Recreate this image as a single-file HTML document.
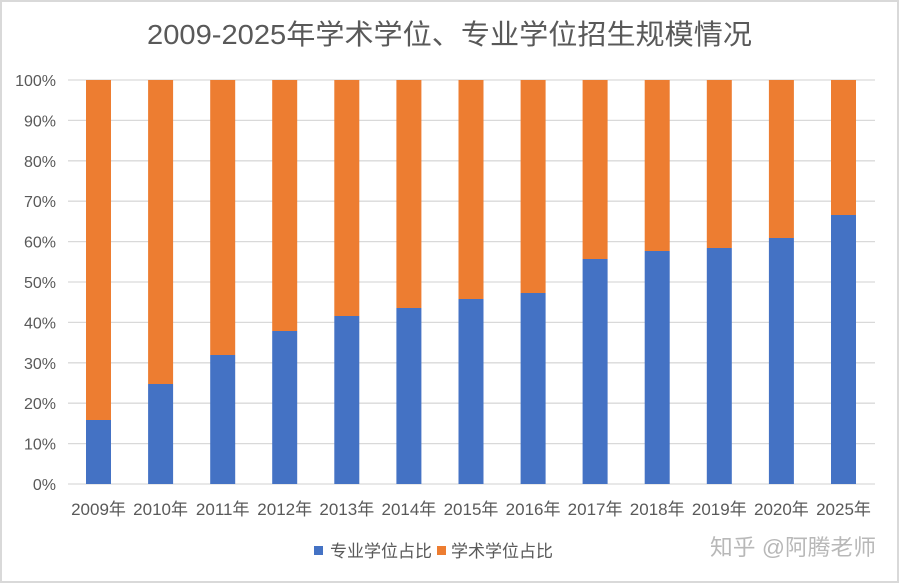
<!DOCTYPE html>
<html><head><meta charset="utf-8"><style>
html,body{margin:0;padding:0;background:#fff;}
svg{display:block;}
text{font-family:"Liberation Sans","Noto Sans CJK SC",sans-serif;fill:#595959;}
</style></head><body>
<svg width="899" height="583" viewBox="0 0 899 583" xmlns="http://www.w3.org/2000/svg">
<rect x="0" y="0" width="899" height="583" fill="#fff"/>
<rect x="1" y="1" width="897" height="581" fill="none" stroke="#d9d9d9" stroke-width="2"/>
<text x="147" y="44" font-size="28" textLength="605" lengthAdjust="spacingAndGlyphs">2009-2025年学术学位、专业学位招生规模情况</text>
<g stroke="#d9d9d9" stroke-width="1.3">
<line x1="68" x2="875" y1="80" y2="80"/><line x1="68" x2="875" y1="120.4" y2="120.4"/>
<line x1="68" x2="875" y1="160.8" y2="160.8"/><line x1="68" x2="875" y1="201.2" y2="201.2"/>
<line x1="68" x2="875" y1="241.6" y2="241.6"/><line x1="68" x2="875" y1="282" y2="282"/>
<line x1="68" x2="875" y1="322.4" y2="322.4"/><line x1="68" x2="875" y1="362.8" y2="362.8"/>
<line x1="68" x2="875" y1="403.2" y2="403.2"/><line x1="68" x2="875" y1="443.6" y2="443.6"/>
<line x1="68" x2="875" y1="484" y2="484"/>
</g>
<g font-size="16" text-anchor="end">
<text x="56" y="86">100%</text><text x="56" y="126.4">90%</text><text x="56" y="166.8">80%</text>
<text x="56" y="207.2">70%</text><text x="56" y="247.6">60%</text><text x="56" y="288">50%</text>
<text x="56" y="328.4">40%</text><text x="56" y="368.8">30%</text><text x="56" y="409.2">20%</text>
<text x="56" y="449.6">10%</text><text x="56" y="490">0%</text>
</g>
<g>
<rect x="86" y="80" width="25" height="340" fill="#ed7d31"/><rect x="86" y="420" width="25" height="64" fill="#4472c4"/>
<rect x="148.1" y="80" width="25" height="304" fill="#ed7d31"/><rect x="148.1" y="384" width="25" height="100" fill="#4472c4"/>
<rect x="210.2" y="80" width="25" height="275" fill="#ed7d31"/><rect x="210.2" y="355" width="25" height="129" fill="#4472c4"/>
<rect x="272.2" y="80" width="25" height="251" fill="#ed7d31"/><rect x="272.2" y="331" width="25" height="153" fill="#4472c4"/>
<rect x="334.3" y="80" width="25" height="236" fill="#ed7d31"/><rect x="334.3" y="316" width="25" height="168" fill="#4472c4"/>
<rect x="396.4" y="80" width="25" height="228" fill="#ed7d31"/><rect x="396.4" y="308" width="25" height="176" fill="#4472c4"/>
<rect x="458.5" y="80" width="25" height="219" fill="#ed7d31"/><rect x="458.5" y="299" width="25" height="185" fill="#4472c4"/>
<rect x="520.6" y="80" width="25" height="213" fill="#ed7d31"/><rect x="520.6" y="293" width="25" height="191" fill="#4472c4"/>
<rect x="582.6" y="80" width="25" height="179" fill="#ed7d31"/><rect x="582.6" y="259" width="25" height="225" fill="#4472c4"/>
<rect x="644.7" y="80" width="25" height="171" fill="#ed7d31"/><rect x="644.7" y="251" width="25" height="233" fill="#4472c4"/>
<rect x="706.8" y="80" width="25" height="168" fill="#ed7d31"/><rect x="706.8" y="248" width="25" height="236" fill="#4472c4"/>
<rect x="768.9" y="80" width="25" height="158" fill="#ed7d31"/><rect x="768.9" y="238" width="25" height="246" fill="#4472c4"/>
<rect x="831" y="80" width="25" height="135" fill="#ed7d31"/><rect x="831" y="215" width="25" height="269" fill="#4472c4"/>
</g>
<g font-size="17" text-anchor="middle">
<text x="98.5" y="515">2009年</text><text x="160.6" y="515">2010年</text><text x="222.7" y="515">2011年</text>
<text x="284.7" y="515">2012年</text><text x="346.8" y="515">2013年</text><text x="408.9" y="515">2014年</text>
<text x="471" y="515">2015年</text><text x="533.1" y="515">2016年</text><text x="595.1" y="515">2017年</text>
<text x="657.2" y="515">2018年</text><text x="719.3" y="515">2019年</text><text x="781.4" y="515">2020年</text>
<text x="843.5" y="515">2025年</text>
</g>
<rect x="314" y="546" width="9" height="9" fill="#4472c4"/>
<text x="330" y="557" font-size="17">专业学位占比</text>
<rect x="437" y="546" width="9" height="9" fill="#ed7d31"/>
<text x="451" y="557" font-size="17">学术学位占比</text>
<text x="710" y="555" font-size="22" textLength="166" lengthAdjust="spacingAndGlyphs" style="fill:#b8b8b8">知乎 @阿腾老师</text>
</svg>
</body></html>
